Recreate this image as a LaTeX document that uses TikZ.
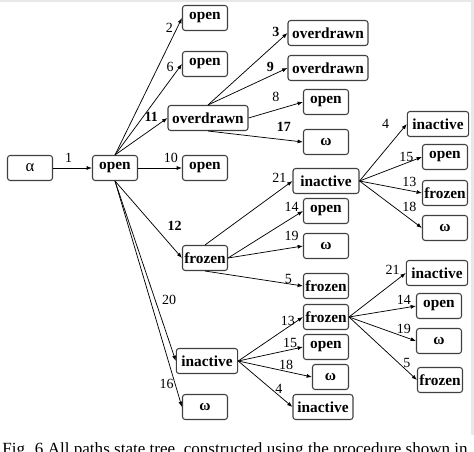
\documentclass[tikz,border=0pt]{standalone}
\usepackage{fontspec}
\setmainfont{Liberation Serif}
\usepackage{tikz}
\usetikzlibrary{arrows.meta}
\tikzset{
  state/.style={draw=black!75, line width=0.8pt, rounded corners=2pt, inner sep=1pt,
    minimum width=33.75pt, minimum height=18.75pt,
    font=\fontsize{11.5}{12}\selectfont\bfseries},
  wide/.style={state, minimum width=60pt},
  mid/.style={state, minimum width=46pt},
  lbl/.style={inner sep=1pt, font=\fontsize{10.5}{11}\selectfont},
  edge/.style={-{Latex[length=4pt,width=3pt]}, line width=0.55pt}
}
\newcommand{\drawEdge}[4]{
  \draw[edge] (#1) -- node[lbl, #4] {#3} (#2);
}

\begin{document}
\begin{tikzpicture}[x=0.75pt, y=-0.75pt]
  \useasboundingbox (0,0) rectangle (474,452);
  \fill[gray!18] (0,0) rectangle (474,2.5);
  \fill[gray!18] (470.5,0) rectangle (474,435);
  % States
  \node[state, font=\fontsize{12.5}{13}\selectfont] (A) at (30,168) {α};
  \node[state] (O) at (115,168) {open};
  \node[state] (O2) at (205,18) {open};
  \node[state] (O6) at (205,64) {open};
  \node[wide] (V11) at (208,118) {overdrawn};
  \node[state] (O10) at (205,168) {open};
  \node[state] (F12) at (205,258) {frozen};
  \node[mid] (I20) at (207,361) {inactive};
  \node[state] (W16) at (205,407) {ω};
  \node[wide] (V3) at (328,33) {overdrawn};
  \node[wide] (V9) at (328,68) {overdrawn};
  \node[state] (O8) at (326,102) {open};
  \node[state] (W17) at (326,142) {ω};
  \node[mid, minimum width=49.5pt] (I21) at (326,181) {inactive};
  \node[state] (O14) at (326,211) {open};
  \node[state] (W19) at (326,246) {ω};
  \node[state] (F5) at (326,286) {frozen};
  \node[mid] (I4) at (438,124) {inactive};
  \node[state] (O15) at (445,157) {open};
  \node[state] (F13) at (445,193) {frozen};
  \node[state] (W18) at (445,228) {ω};
  \node[state] (F13b) at (326,317) {frozen};
  \node[state] (O15b) at (326,347) {open};
  \node[state, minimum width=27pt] (W18b) at (330.5,377) {ω};
  \node[mid, minimum width=45pt] (I4b) at (323,407) {inactive};
  \node[mid] (I21b) at (437,273) {inactive};
  \node[state] (O14b) at (439,306) {open};
  \node[state] (W19b) at (439,341) {ω};
  \node[state] (F5b) at (440,380) {frozen};
  % Transitions
  \drawEdge{A.east}{O.west}{1}{pos=0.4, above=3pt}
  \drawEdge{O.north}{O2.west}{2}{pos=0.93, left=2pt}
  \drawEdge{O.north}{O6.west}{6}{pos=0.9, above left}
  \drawEdge{O.north}{V11.west}{\textbf{11}}{pos=0.85, above left}
  \drawEdge{O.east}{O10.west}{10}{pos=0.75, above=3pt}
  \drawEdge{O.south}{F12.west}{\textbf{12}}{pos=0.66, above right, xshift=5pt}
  \drawEdge{O.south}{I20.west}{20}{pos=0.66, right, xshift=4pt}
  \drawEdge{O.south}{W16.west}{16}{pos=0.9, left}
  \drawEdge{V11.north}{V3.west}{\textbf{3}}{pos=0.92, above left}
  \drawEdge{V11.north}{V9.west}{\textbf{9}}{pos=0.85, above left}
  \drawEdge{V11.east}{O8.west}{8}{pos=0.5, above=5pt}
  \drawEdge{V11.south}{W17.west}{\textbf{17}}{pos=0.8, above=5pt}
  \drawEdge{I21.east}{I4.west}{4}{pos=1, left=12pt}
  \drawEdge{I21.east}{O15.west}{15}{pos=0.75, above}
  \drawEdge{I21.east}{F13.west}{13}{pos=0.8, above=2pt}
  \drawEdge{I21.east}{W18.west}{18}{pos=0.8, above=4pt}
  \drawEdge{F12.north}{I21.west}{21}{pos=0.95, above left}
  \drawEdge{F12.east}{O14.west}{14}{pos=0.85, above=4pt}
  \drawEdge{F12.east}{W19.west}{19}{pos=0.85, above=4pt}
  \drawEdge{F12.south}{F5.west}{5}{pos=0.85, above=-1pt}
  \drawEdge{I20.east}{F13b.west}{13}{pos=0.9, left}
  \drawEdge{I20.east}{O15b.west}{15}{pos=0.8, above}
  \drawEdge{I20.east}{W18b.west}{18}{pos=0.65, above}
  \drawEdge{I20.east}{I4b.west}{4}{pos=0.75, above}
  \drawEdge{F13b.east}{I21b.west}{21}{pos=0.92, above left}
  \drawEdge{F13b.east}{O14b.west}{14}{pos=0.82, above=1pt}
  \drawEdge{F13b.east}{W19b.west}{19}{pos=0.82, above=1pt}
  \drawEdge{F13b.east}{F5b.west}{5}{pos=0.85, above=1pt}
  % Caption (cut at the lower edge)
  \node[anchor=base west, inner sep=0pt, font=\fontsize{12.8}{14}\selectfont] (cap) at (2,454.5)
    {Fig. 6 All paths state tree, constructed using the procedure shown in};
\end{tikzpicture}
\end{document}
